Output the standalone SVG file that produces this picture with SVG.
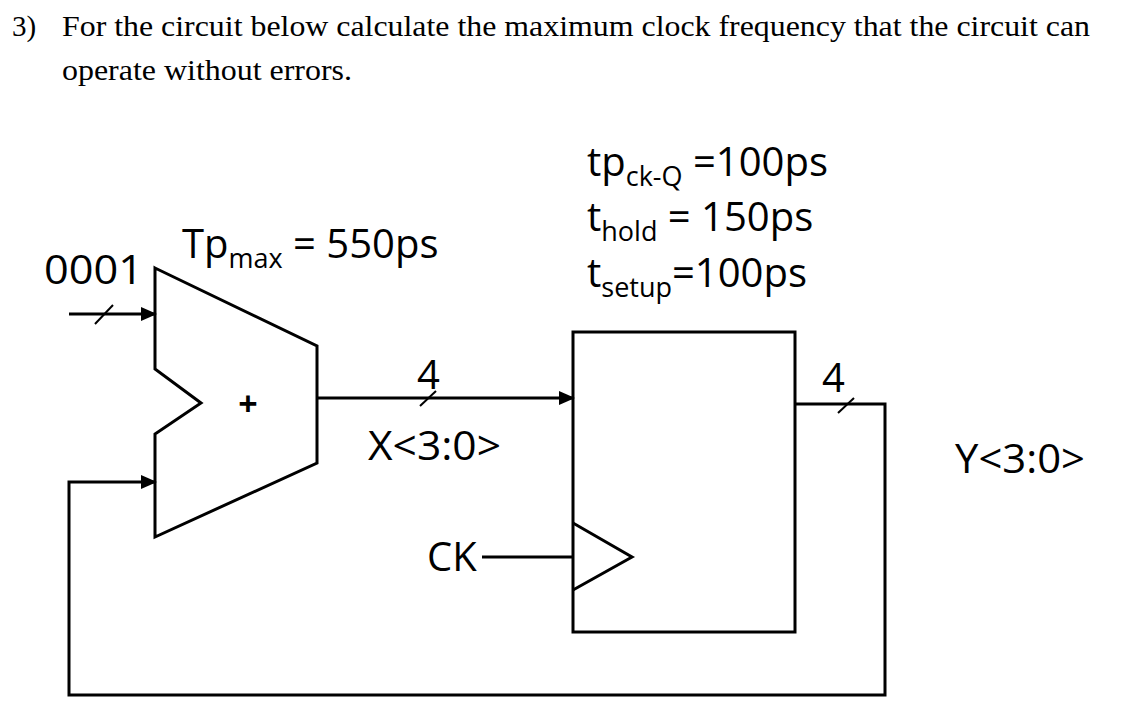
<svg xmlns="http://www.w3.org/2000/svg" width="1130" height="708" viewBox="0 0 1130 708">
<style>
.w{fill:none;stroke:#000;stroke-width:3}
.t{font-family:"Liberation Serif",serif;font-size:29px}
.c{font-family:"Open Sans","Liberation Sans",sans-serif;font-size:40px;font-weight:500}
.s{font-size:27px}
</style>
<defs><marker id="a" markerWidth="16" markerHeight="14" refX="14" refY="7" orient="auto" markerUnits="userSpaceOnUse"><path d="M0,0L16,7L0,14z" fill="#000"/></marker></defs>
<rect width="1130" height="708" fill="#fff"/>
<text class="t" x="12" y="36">3)</text>
<text class="t" x="62" y="36" textLength="1028" lengthAdjust="spacingAndGlyphs">For the circuit below calculate the maximum clock frequency that the circuit can</text>
<text class="t" x="62" y="80" textLength="290" lengthAdjust="spacingAndGlyphs">operate without errors.</text>
<g id="adder"><polygon class="w" points="155,268 317,346 317,463 155,537 155,434 201,403 155,369"/>
<text class="c" x="248" y="416" text-anchor="middle" style="font-size:34px;font-weight:bold">+</text></g>
<g id="ff"><rect class="w" x="573" y="332" width="222" height="300"/>
<polyline class="w" points="573,523 632,557 573,590"/></g>
<g id="connectors">
<line class="w" x1="69" y1="314" x2="155" y2="314" marker-end="url(#a)"/>
<line x1="95" y1="324" x2="113" y2="305" stroke="#000" stroke-width="2"/>
<polyline class="w" points="69,540 69,482 155,482" marker-end="url(#a)"/>
<line class="w" x1="317" y1="398" x2="573" y2="398" marker-end="url(#a)"/>
<line x1="420" y1="406" x2="436" y2="391" stroke="#000" stroke-width="2"/>
<line class="w" x1="482" y1="557" x2="573" y2="557"/>
<polyline class="w" points="795,404 885,404 885,695 69,695 69,540"/>
<line x1="838" y1="413" x2="854" y2="398" stroke="#000" stroke-width="2"/>
</g>
<g class="c">
<text x="44" y="284" textLength="99" lengthAdjust="spacingAndGlyphs">0001</text>
<text x="182" y="258">Tp<tspan class="s" dy="10">max</tspan><tspan dy="-10"> = 550ps</tspan></text>
<text x="587" y="176">tp<tspan class="s" dy="10">ck-Q</tspan><tspan dy="-10"> =100ps</tspan></text>
<text x="587" y="231">t<tspan class="s" dy="10">hold</tspan><tspan dy="-10"> = 150ps</tspan></text>
<text x="587" y="287">t<tspan class="s" dy="10">setup</tspan><tspan dy="-10">=100ps</tspan></text>
<text x="417" y="389">4</text>
<text x="822" y="392">4</text>
<text x="368" y="460" textLength="133" lengthAdjust="spacingAndGlyphs">X&lt;3:0&gt;</text>
<text x="427" y="571">CK</text>
<text x="955" y="473" textLength="130" lengthAdjust="spacingAndGlyphs">Y&lt;3:0&gt;</text>
</g>
</svg>
